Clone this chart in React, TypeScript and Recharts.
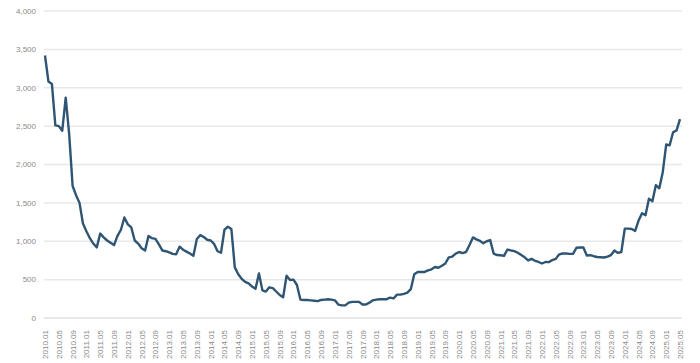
import { LineChart, Line, XAxis, YAxis, CartesianGrid } from "recharts";

// monthly values, 2010.01 .. 2025.05
const y2010 = [3420, 3080, 3050, 2510, 2500, 2440, 2870, 2400, 1720, 1600, 1500, 1230];
const y2011 = [1130, 1040, 970, 920, 1100, 1050, 1010, 980, 950, 1070, 1150, 1310];
const y2012 = [1220, 1180, 1010, 970, 910, 880, 1070, 1040, 1030, 960, 880, 870];
const y2013 = [855, 835, 830, 930, 890, 865, 840, 810, 1030, 1080, 1055, 1020];
const y2014 = [1010, 965, 870, 850, 1150, 1190, 1160, 660, 570, 510, 470, 450];
const y2015 = [410, 380, 580, 360, 345, 400, 390, 345, 300, 270, 550, 495];
const y2016 = [500, 430, 240, 235, 235, 230, 225, 220, 235, 240, 245, 240];
const y2017 = [230, 175, 165, 165, 200, 210, 210, 210, 175, 175, 200, 230];
const y2018 = [240, 245, 245, 245, 265, 255, 305, 305, 315, 330, 375, 570];
const y2019 = [600, 600, 600, 620, 635, 665, 655, 680, 710, 790, 800, 840];
const y2020 = [860, 845, 860, 950, 1050, 1025, 1005, 975, 1000, 1015, 840, 820];
const y2021 = [818, 810, 892, 880, 872, 850, 820, 790, 750, 770, 745, 730];
const y2022 = [710, 730, 728, 755, 770, 830, 840, 840, 835, 835, 915, 918];
const y2023 = [918, 815, 818, 805, 795, 792, 788, 800, 820, 880, 848, 860];
const y2024 = [1165, 1165, 1160, 1135, 1270, 1365, 1340, 1555, 1520, 1730, 1690, 1900];
const y2025 = [2260, 2250, 2420, 2445, 2590];

const years = [
  y2010, y2011, y2012, y2013, y2014, y2015, y2016, y2017,
  y2018, y2019, y2020, y2021, y2022, y2023, y2024, y2025,
];

const yTicks = [0, 500, 1000, 1500, 2000, 2500, 3000, 3500, 4000];

const data = years.flatMap((vals, yi) =>
  vals.map((v, mi) => ({
    month: `${2010 + yi}.${String(mi + 1).padStart(2, "0")}`,
    value: v,
  }))
);

const fmt = (v: number) => v.toLocaleString("en-US");

const RotTick = (props: any) => {
  const { x, y, payload } = props;
  return (
    <g transform={`translate(${x},${y + 4})`}>
      <text
        transform="rotate(-90)"
        textAnchor="end"
        dy={3}
        fontSize={8}
        fill="#8a8a8a"
        fontFamily="Liberation Sans, Arial, sans-serif"
      >
        {payload.value}
      </text>
    </g>
  );
};

export default function App() {
  return (
    <div style={{ position: "fixed", left: 0, top: 0, background: "#fff" }}>
      <LineChart
        width={700}
        height={363}
        data={data}
        margin={{ top: 11, right: 18, left: 0, bottom: 0 }}
      >
        <CartesianGrid vertical={false} stroke="#e8e8e8" strokeWidth={1.5} />
        <XAxis
          dataKey="month"
          interval={3}
          tickLine={false}
          axisLine={{ stroke: "#e3e3e3" }}
          tick={<RotTick />}
          height={45}
          padding={{ left: 1, right: 2 }}
        />
        <YAxis
          domain={[0, 4000]}
          ticks={yTicks}
          tickFormatter={fmt}
          tickLine={false}
          axisLine={false}
          width={44}
          tick={{ fill: "#8a8a8a", fontSize: 8, fontFamily: "Liberation Sans, Arial, sans-serif" }}
        />
        <Line
          type="linear"
          dataKey="value"
          stroke="#2e5573"
          strokeWidth={2.4}
          strokeLinejoin="round"
          dot={false}
          isAnimationActive={false}
        />
      </LineChart>
    </div>
  );
}
